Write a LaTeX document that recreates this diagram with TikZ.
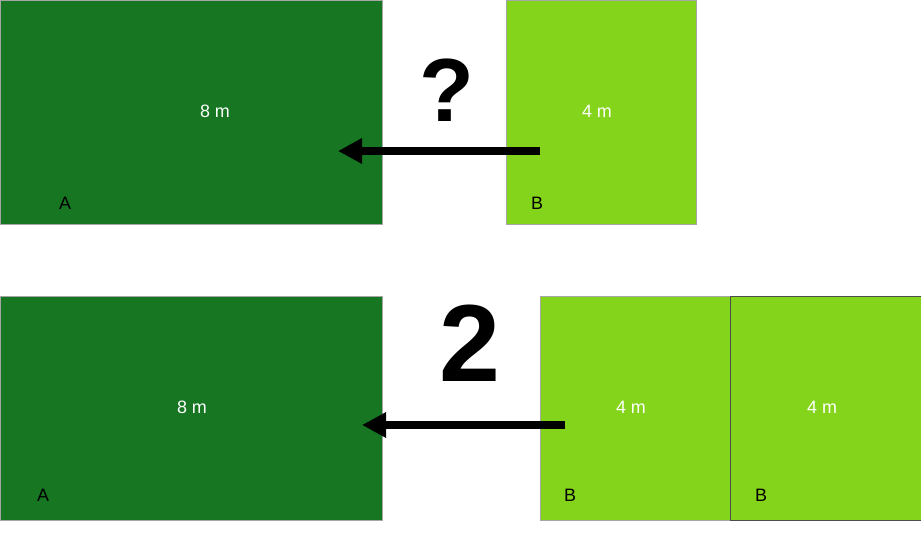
\documentclass[tikz,border=0pt]{standalone}
\usepackage{fontspec}
\setmainfont{Liberation Sans}
\usetikzlibrary{arrows.meta}
\definecolor{dg}{HTML}{167622}
\definecolor{lg}{HTML}{83D41B}
\tikzset{x=1bp,y=-1bp,
 boxA/.style={fill=dg,draw=gray!70,line width=0.6bp},
 boxB/.style={fill=lg,draw=gray!70,line width=0.6bp},
 wl/.style={text=white,font=\fontsize{18}{20}\selectfont},
 bl/.style={text=black,font=\fontsize{18}{20}\selectfont},
 arr/.style={line width=8bp,-{Triangle[length=24bp,width=24bp]}}}
\begin{document}
\begin{tikzpicture}
\useasboundingbox (0,0) rectangle (921,543);
\draw[boxA] (0,0) rectangle (382,224);
\draw[boxB] (506,0) rectangle (696,224);
\node[wl] (t8) at (215,111) {8 m};
\node[wl] (t4) at (597,111) {4 m};
\node[bl] (tA) at (65,203) {A};
\node[bl] (tB) at (537,203) {B};
\node[font=\fontsize{90}{90}\bfseries] (q) at (447,90) {?};
\coordinate (s1) at (540,151); \coordinate (e1) at (338,151);
\draw[arr] (s1) -- (e1);
\draw[boxA] (0,296) rectangle (382,520);
\draw[boxB] (540,296) rectangle (730,520);
\draw[boxB,draw=black!70] (730,296) rectangle (921,520);
\draw[black!70,line width=0.6bp] (730,296) -- (730,520);
\node[wl] (b8) at (192,407) {8 m};
\node[wl] (b4a) at (631,407) {4 m};
\node[wl] (b4b) at (822,407) {4 m};
\node[bl] (bA) at (43,495) {A};
\node[bl] (bB1) at (570,495) {B};
\node[bl] (bB2) at (761,495) {B};
\node[font=\fontsize{110}{110}\bfseries] (two) at (470,343) {2};
\coordinate (s2) at (565,425); \coordinate (e2) at (362,425);
\draw[arr] (s2) -- (e2);
\end{tikzpicture}
\end{document}
